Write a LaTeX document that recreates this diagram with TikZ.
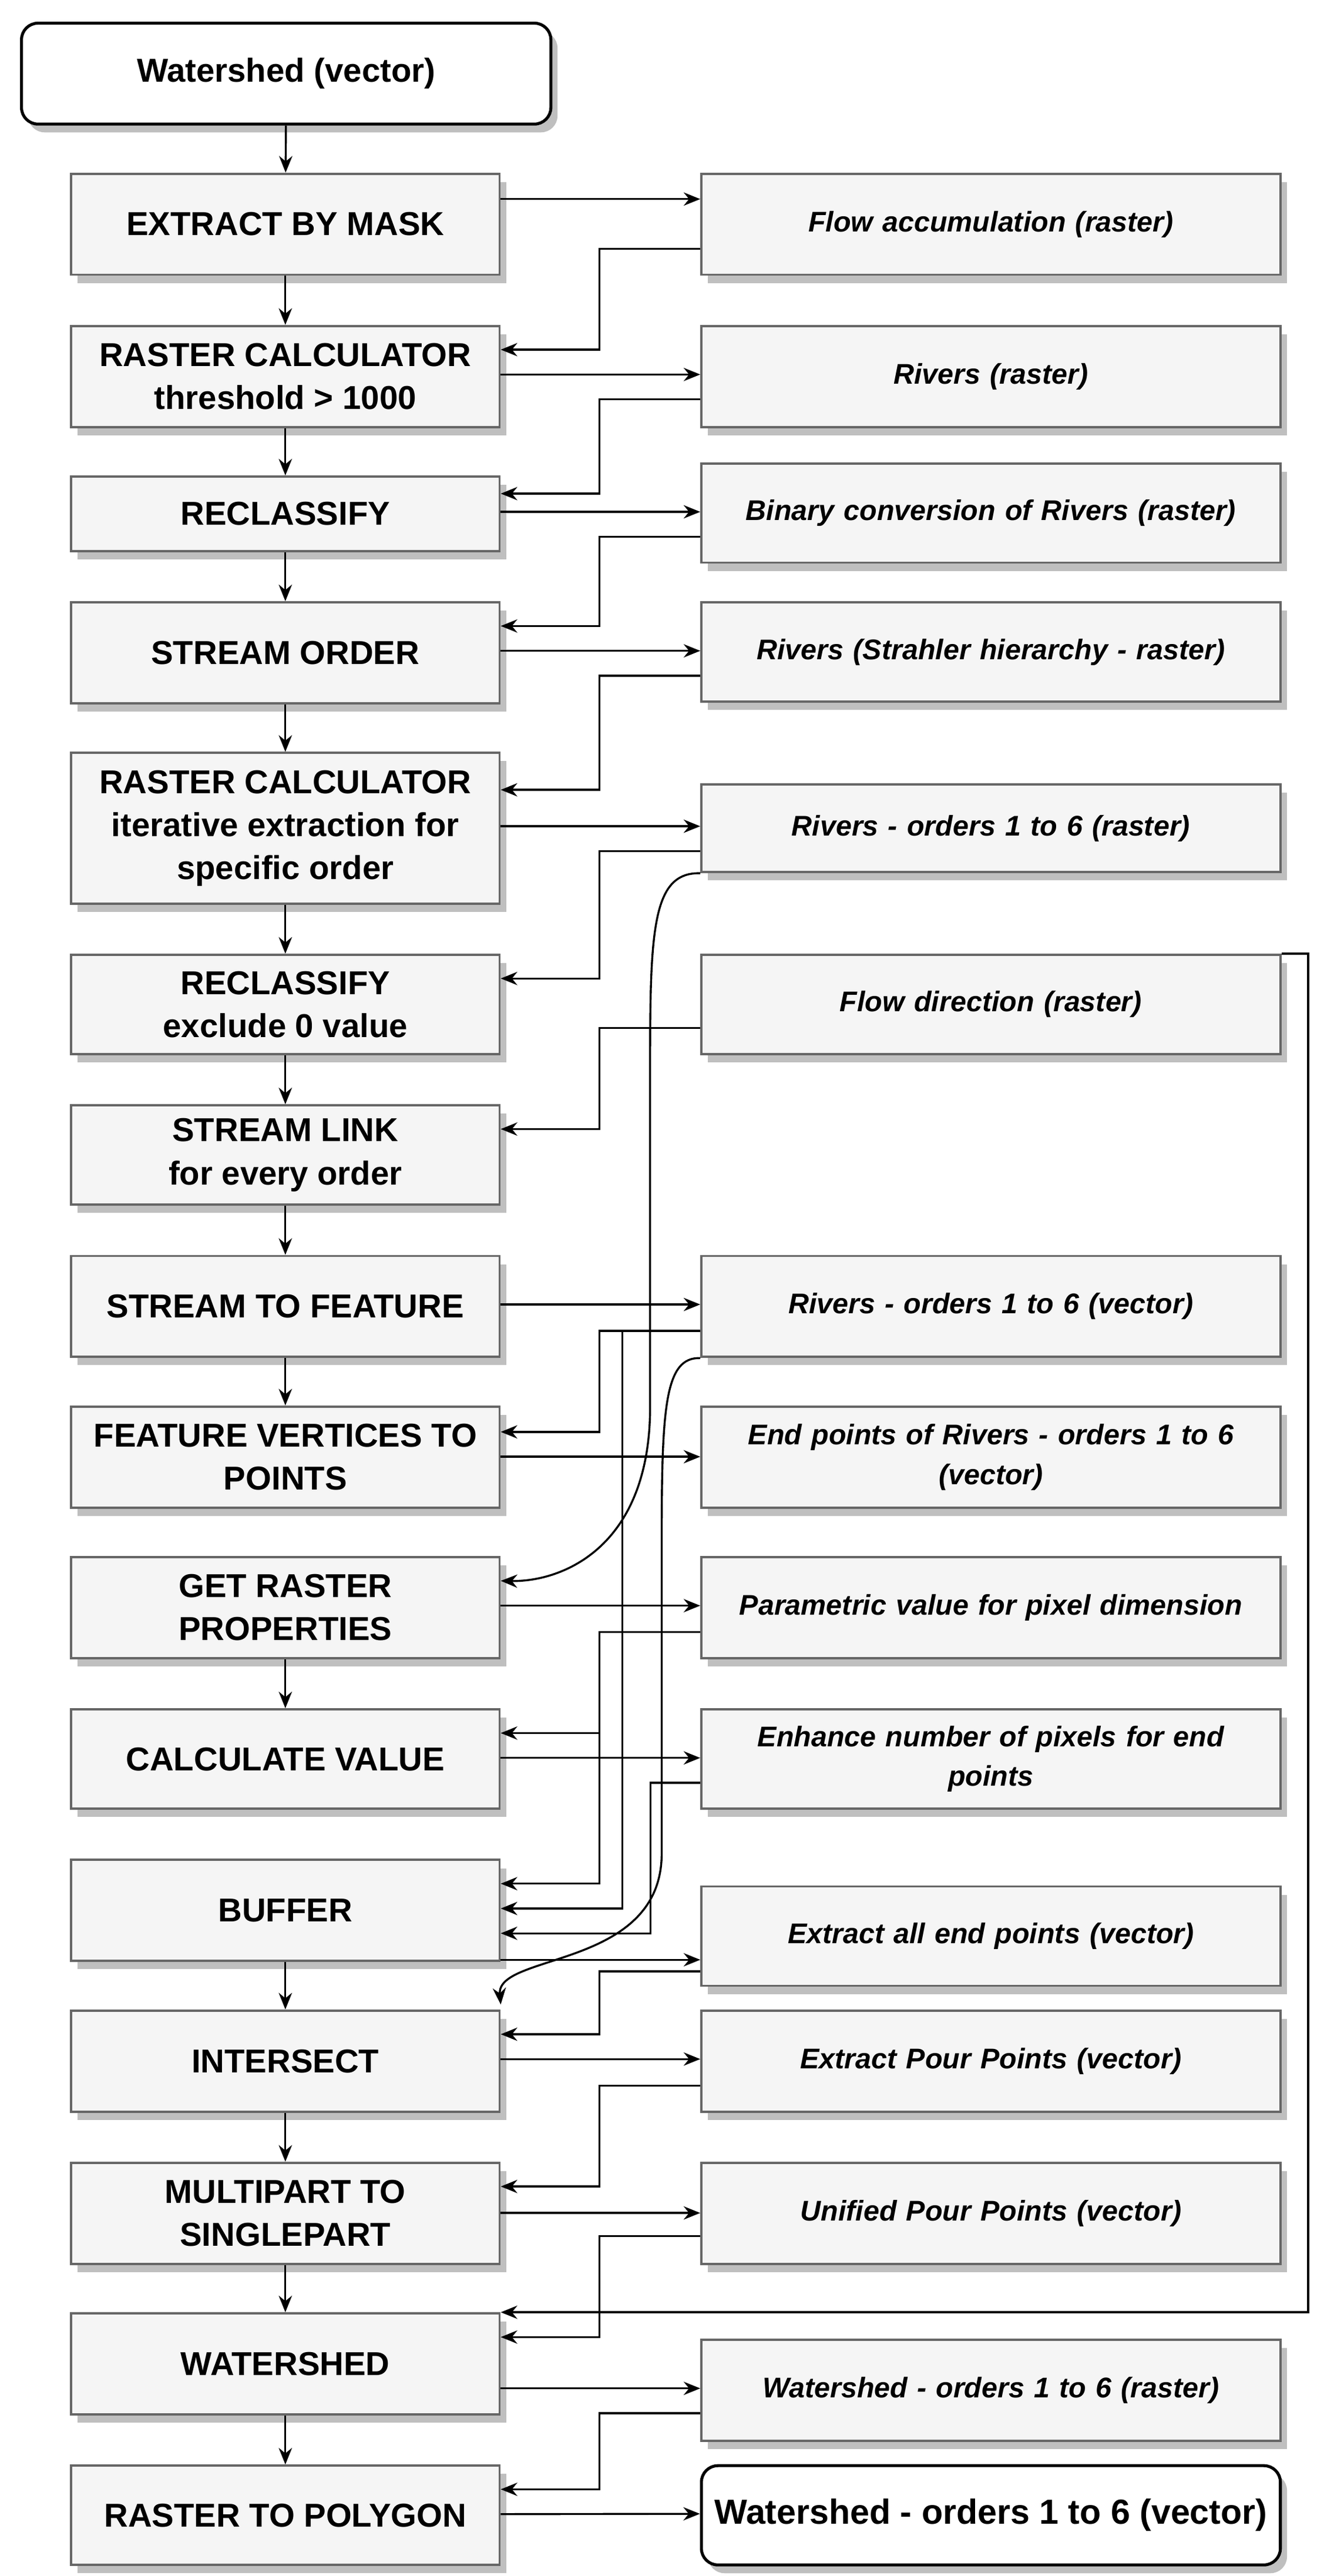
\documentclass[tikz,border=0pt]{standalone}
\usepackage{fontspec}
\setmainfont{Liberation Sans}
\usetikzlibrary{calc,arrows.meta,shadows}
\begin{document}
\begin{tikzpicture}[x={(0.5pt,0)},y={(0,-0.5pt)},
  sh/.style={drop shadow={shadow xshift=2pt,shadow yshift=-2.5pt,fill=black!25,opacity=1}},
  lb/.style={draw=black!60,line width=0.7pt,fill=black!4,sh,minimum width=129.5pt,align=center,inner sep=1pt,font=\bfseries\fontsize{10}{13}\selectfont},
  rb/.style={draw=black!60,line width=0.7pt,fill=black!4,sh,minimum width=175pt,align=center,text width=170pt,inner sep=1pt,font=\bfseries\itshape\fontsize{8.6}{12}\selectfont},
  tb/.style={draw=black,line width=0.9pt,fill=white,rounded corners=5pt,sh,align=center,font=\bfseries\fontsize{10}{13}\selectfont},
  a/.style={-{Stealth[length=5pt,width=4pt]},line width=0.6pt}]
\useasboundingbox (0,0) rectangle (800,1556.7);
% left column
\node[tb,minimum width=160pt,minimum height=30.5pt] (top) at (173,44.5) {Watershed (vector)};
\node[lb,minimum height=30.5pt] (l1) at (172.5,135.5) {EXTRACT BY MASK};
\node[lb,minimum height=30.5pt] (l2) at (172.5,227.5) {RASTER CALCULATOR\\threshold > 1000};
\node[lb,minimum height=22.5pt] (l3) at (172.5,310.5) {RECLASSIFY};
\node[lb,minimum height=30.5pt] (l4) at (172.5,394.5) {STREAM ORDER};
\node[lb,minimum height=45.5pt] (l5) at (172.5,500.5) {RASTER CALCULATOR\\iterative extraction for\\specific order};
\node[lb,minimum height=30pt] (l6) at (172.5,607) {RECLASSIFY\\exclude 0 value};
\node[lb,minimum height=30pt] (l7) at (172.5,698) {STREAM LINK\\for every order};
\node[lb,minimum height=30.5pt] (l8) at (172.5,789.5) {STREAM TO FEATURE};
\node[lb,minimum height=30.5pt] (l9) at (172.5,880.5) {FEATURE VERTICES TO\\POINTS};
\node[lb,minimum height=30.5pt] (l10) at (172.5,971.5) {GET RASTER\\PROPERTIES};
\node[lb,minimum height=30pt] (l11) at (172.5,1063) {CALCULATE VALUE};
\node[lb,minimum height=30.5pt] (l12) at (172.5,1154.5) {BUFFER};
\node[lb,minimum height=30.5pt] (l13) at (172.5,1245.5) {INTERSECT};
\node[lb,minimum height=30.5pt] (l14) at (172.5,1337.5) {MULTIPART TO\\SINGLEPART};
\node[lb,minimum height=30.5pt] (l15) at (172.5,1428.5) {WATERSHED};
\node[lb,minimum height=30pt] (l16) at (172.5,1520) {RASTER TO POLYGON};
% right column
\node[rb,minimum height=30.5pt] (r1) at (599,135.5) {Flow accumulation (raster)};
\node[rb,minimum height=30.5pt] (r2) at (599,227.5) {Rivers (raster)};
\node[rb,minimum height=30pt] (r3) at (599,310) {Binary conversion of Rivers (raster)};
\node[rb,minimum height=30pt] (r4) at (599,394) {Rivers (Strahler hierarchy - raster)};
\node[rb,minimum height=26.5pt] (r5) at (599,500.5) {Rivers - orders 1 to 6 (raster)};
\node[rb,minimum height=30pt] (r6) at (599,607) {Flow direction (raster)};
\node[rb,minimum height=30.5pt] (r7) at (599,789.5) {Rivers - orders 1 to 6 (vector)};
\node[rb,minimum height=30.5pt] (r8) at (599,880.5) {End points of Rivers - orders 1 to 6\\(vector)};
\node[rb,minimum height=30.5pt] (r9) at (599,971.5) {Parametric value for pixel dimension};
\node[rb,minimum height=30pt] (r10) at (599,1063) {Enhance number of pixels for end\\points};
\node[rb,minimum height=30pt] (r11) at (599,1170) {Extract all end points (vector)};
\node[rb,minimum height=30.5pt] (r12) at (599,1245.5) {Extract Pour Points (vector)};
\node[rb,minimum height=30.5pt] (r13) at (599,1337.5) {Unified Pour Points (vector)};
\node[rb,minimum height=30.5pt] (r14) at (599,1444.5) {Watershed - orders 1 to 6 (raster)};
\node[tb,minimum width=175pt,minimum height=30pt,font=\bfseries\fontsize{10.5}{13}\selectfont] (r15) at (599,1520) {Watershed - orders 1 to 6 (vector)};
% vertical flow
\foreach \p/\q in {top/l1,l1/l2,l2/l3,l3/l4,l4/l5,l5/l6,l6/l7,l7/l8,l8/l9,l10/l11,l12/l13,l13/l14,l14/l15,l15/l16}
  \draw[a] (\p) -- (\q);
% forward arrows
\foreach \p/\q/\u/\v in {l1/r1/16/16,l2/r2/30/30,l3/r3/22/30,l4/r4/30/30,l5/r5/45/26,l8/r7/30/30,l9/r8/31/31,l10/r9/30/30,l11/r10/30/30,l12/r11/61/45,l13/r12/30/30,l14/r13/31/31,l15/r14/46/30,l16/r15/30/30}
  \draw[a] ($(\p.north east)+(0,\u)$) -- ($(\q.north west)+(0,\v)$);
% feedback elbows
\foreach \p/\q/\u/\v/\d in {r1/l2/46/15/61,r2/l3/45/11/61,r3/l4/45/15/61,r4/l5/45/23/61,r5/l6/41/15/61,r6/l7/45/15/61,r7/l9/46/16/61,r7/l12/46/30/47,r9/l11/46/15/61,r9/l12/46/15/61,r10/l12/45/45/30,r11/l13/52/15/61,r12/l14/46/15/61,r13/l15/45/15/61,r14/l16/45/15/61}
  \draw[a] ($(\p.north west)+(0,\u)$) -- ++(-\d,0) |- ($(\q.north east)+(0,\v)$);
% curves
\draw[a] (r5.south west) .. controls (395,527) and (393,560) .. (393,640) -- (393,850)
  .. controls (393,935) and (340,956) .. ($(l10.north east)+(0,15)$);
\coordinate (it) at ($(l13.north east)+(0,-3)$);
\draw[a] (r7.south west) .. controls (402,820) and (400,850) .. (400,930) -- (400,1120)
  .. controls (400,1190) and (300,1180) .. (it);
% loop
\draw[a] (r6.north east) -- ++(16,0) |- (l15.north east);
\end{tikzpicture}
\end{document}
